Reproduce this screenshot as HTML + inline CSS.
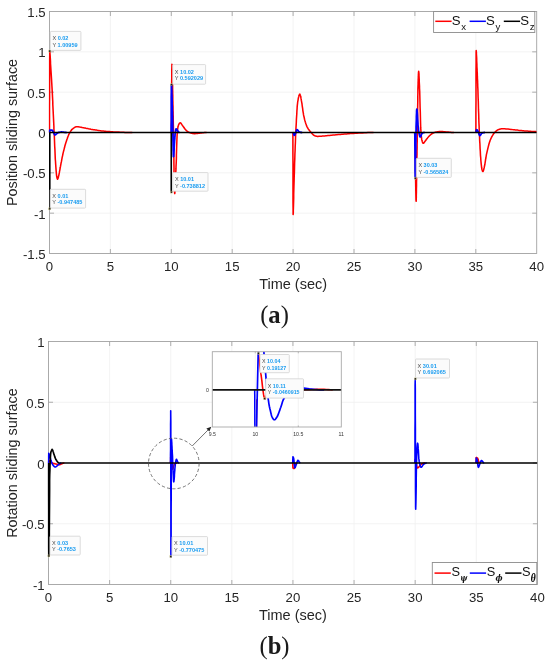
<!DOCTYPE html>
<html><head><meta charset="utf-8"><title>Sliding surfaces</title>
<style>html,body{margin:0;padding:0;background:#fff}svg{display:block}</style></head>
<body>
<svg width="550" height="666" viewBox="0 0 550 666">
<rect width="550" height="666" fill="#fff"/>
<defs><clipPath id="c1"><rect x="48.5" y="11.5" width="488.20000000000005" height="242.0"/></clipPath></defs>
<rect x="49.5" y="11.5" width="487.20000000000005" height="242.0" fill="#fff"/>
<line x1="110.40" x2="110.40" y1="11.5" y2="253.5" stroke="#f0f0f0" stroke-width="0.8"/>
<line x1="171.30" x2="171.30" y1="11.5" y2="253.5" stroke="#f0f0f0" stroke-width="0.8"/>
<line x1="232.20" x2="232.20" y1="11.5" y2="253.5" stroke="#f0f0f0" stroke-width="0.8"/>
<line x1="293.10" x2="293.10" y1="11.5" y2="253.5" stroke="#f0f0f0" stroke-width="0.8"/>
<line x1="354.00" x2="354.00" y1="11.5" y2="253.5" stroke="#f0f0f0" stroke-width="0.8"/>
<line x1="414.90" x2="414.90" y1="11.5" y2="253.5" stroke="#f0f0f0" stroke-width="0.8"/>
<line x1="475.80" x2="475.80" y1="11.5" y2="253.5" stroke="#f0f0f0" stroke-width="0.8"/>
<line x1="49.5" x2="536.7" y1="213.17" y2="213.17" stroke="#f0f0f0" stroke-width="0.8"/>
<line x1="49.5" x2="536.7" y1="172.83" y2="172.83" stroke="#f0f0f0" stroke-width="0.8"/>
<line x1="49.5" x2="536.7" y1="132.50" y2="132.50" stroke="#f0f0f0" stroke-width="0.8"/>
<line x1="49.5" x2="536.7" y1="92.17" y2="92.17" stroke="#f0f0f0" stroke-width="0.8"/>
<line x1="49.5" x2="536.7" y1="51.83" y2="51.83" stroke="#f0f0f0" stroke-width="0.8"/>
<line x1="110.40" x2="110.40" y1="253.5" y2="249.0" stroke="#9a9a9a" stroke-width="0.8"/>
<line x1="110.40" x2="110.40" y1="11.5" y2="16.0" stroke="#9a9a9a" stroke-width="0.8"/>
<line x1="171.30" x2="171.30" y1="253.5" y2="249.0" stroke="#9a9a9a" stroke-width="0.8"/>
<line x1="171.30" x2="171.30" y1="11.5" y2="16.0" stroke="#9a9a9a" stroke-width="0.8"/>
<line x1="232.20" x2="232.20" y1="253.5" y2="249.0" stroke="#9a9a9a" stroke-width="0.8"/>
<line x1="232.20" x2="232.20" y1="11.5" y2="16.0" stroke="#9a9a9a" stroke-width="0.8"/>
<line x1="293.10" x2="293.10" y1="253.5" y2="249.0" stroke="#9a9a9a" stroke-width="0.8"/>
<line x1="293.10" x2="293.10" y1="11.5" y2="16.0" stroke="#9a9a9a" stroke-width="0.8"/>
<line x1="354.00" x2="354.00" y1="253.5" y2="249.0" stroke="#9a9a9a" stroke-width="0.8"/>
<line x1="354.00" x2="354.00" y1="11.5" y2="16.0" stroke="#9a9a9a" stroke-width="0.8"/>
<line x1="414.90" x2="414.90" y1="253.5" y2="249.0" stroke="#9a9a9a" stroke-width="0.8"/>
<line x1="414.90" x2="414.90" y1="11.5" y2="16.0" stroke="#9a9a9a" stroke-width="0.8"/>
<line x1="475.80" x2="475.80" y1="253.5" y2="249.0" stroke="#9a9a9a" stroke-width="0.8"/>
<line x1="475.80" x2="475.80" y1="11.5" y2="16.0" stroke="#9a9a9a" stroke-width="0.8"/>
<line x1="49.5" x2="54.0" y1="213.17" y2="213.17" stroke="#9a9a9a" stroke-width="0.8"/>
<line x1="536.7" x2="532.2" y1="213.17" y2="213.17" stroke="#9a9a9a" stroke-width="0.8"/>
<line x1="49.5" x2="54.0" y1="172.83" y2="172.83" stroke="#9a9a9a" stroke-width="0.8"/>
<line x1="536.7" x2="532.2" y1="172.83" y2="172.83" stroke="#9a9a9a" stroke-width="0.8"/>
<line x1="49.5" x2="54.0" y1="132.50" y2="132.50" stroke="#9a9a9a" stroke-width="0.8"/>
<line x1="536.7" x2="532.2" y1="132.50" y2="132.50" stroke="#9a9a9a" stroke-width="0.8"/>
<line x1="49.5" x2="54.0" y1="92.17" y2="92.17" stroke="#9a9a9a" stroke-width="0.8"/>
<line x1="536.7" x2="532.2" y1="92.17" y2="92.17" stroke="#9a9a9a" stroke-width="0.8"/>
<line x1="49.5" x2="54.0" y1="51.83" y2="51.83" stroke="#9a9a9a" stroke-width="0.8"/>
<line x1="536.7" x2="532.2" y1="51.83" y2="51.83" stroke="#9a9a9a" stroke-width="0.8"/>
<text x="49.50" y="271.30" text-anchor="middle" font-family='"Liberation Sans", Arial, Helvetica, sans-serif' font-size="13.2" fill="#262626">0</text>
<text x="110.40" y="271.30" text-anchor="middle" font-family='"Liberation Sans", Arial, Helvetica, sans-serif' font-size="13.2" fill="#262626">5</text>
<text x="171.30" y="271.30" text-anchor="middle" font-family='"Liberation Sans", Arial, Helvetica, sans-serif' font-size="13.2" fill="#262626">10</text>
<text x="232.20" y="271.30" text-anchor="middle" font-family='"Liberation Sans", Arial, Helvetica, sans-serif' font-size="13.2" fill="#262626">15</text>
<text x="293.10" y="271.30" text-anchor="middle" font-family='"Liberation Sans", Arial, Helvetica, sans-serif' font-size="13.2" fill="#262626">20</text>
<text x="354.00" y="271.30" text-anchor="middle" font-family='"Liberation Sans", Arial, Helvetica, sans-serif' font-size="13.2" fill="#262626">25</text>
<text x="414.90" y="271.30" text-anchor="middle" font-family='"Liberation Sans", Arial, Helvetica, sans-serif' font-size="13.2" fill="#262626">30</text>
<text x="475.80" y="271.30" text-anchor="middle" font-family='"Liberation Sans", Arial, Helvetica, sans-serif' font-size="13.2" fill="#262626">35</text>
<text x="536.70" y="271.30" text-anchor="middle" font-family='"Liberation Sans", Arial, Helvetica, sans-serif' font-size="13.2" fill="#262626">40</text>
<text x="45.70" y="259.10" text-anchor="end" font-family='"Liberation Sans", Arial, Helvetica, sans-serif' font-size="13.2" fill="#262626">-1.5</text>
<text x="45.70" y="218.77" text-anchor="end" font-family='"Liberation Sans", Arial, Helvetica, sans-serif' font-size="13.2" fill="#262626">-1</text>
<text x="45.70" y="178.43" text-anchor="end" font-family='"Liberation Sans", Arial, Helvetica, sans-serif' font-size="13.2" fill="#262626">-0.5</text>
<text x="45.70" y="138.10" text-anchor="end" font-family='"Liberation Sans", Arial, Helvetica, sans-serif' font-size="13.2" fill="#262626">0</text>
<text x="45.70" y="97.77" text-anchor="end" font-family='"Liberation Sans", Arial, Helvetica, sans-serif' font-size="13.2" fill="#262626">0.5</text>
<text x="45.70" y="57.43" text-anchor="end" font-family='"Liberation Sans", Arial, Helvetica, sans-serif' font-size="13.2" fill="#262626">1</text>
<text x="45.70" y="17.10" text-anchor="end" font-family='"Liberation Sans", Arial, Helvetica, sans-serif' font-size="13.2" fill="#262626">1.5</text>
<text x="293.10" y="289.20" text-anchor="middle" font-family='"Liberation Sans", Arial, Helvetica, sans-serif' font-size="14.5" fill="#262626">Time (sec)</text>
<text transform="translate(17.4,132.50) rotate(-90)" text-anchor="middle" font-family='"Liberation Sans", Arial, Helvetica, sans-serif' font-size="14.4" fill="#262626">Position sliding surface</text>
<rect x="49.5" y="11.5" width="487.20000000000005" height="242.0" fill="none" stroke="#a2a2a2" stroke-width="0.9"/>
<path d="M49.5,132.5 L49.5,124.3 L49.5,115.5 L49.5,106.5 L49.6,97.4 L49.6,88.4 L49.6,79.9 L49.6,72.0 L49.6,65.0 L49.6,59.2 L49.7,54.7 L49.7,51.9 L49.7,50.9 L49.8,51.1 L49.9,51.6 L49.9,52.5 L50.0,53.7 L50.1,55.1 L50.2,56.6 L50.3,58.3 L50.4,60.0 L50.5,61.7 L50.5,63.4 L50.6,64.9 L50.7,66.4 L50.8,67.9 L50.9,69.5 L51.0,71.0 L51.1,72.5 L51.2,74.1 L51.3,75.6 L51.4,77.2 L51.5,78.8 L51.6,80.5 L51.7,82.2 L51.8,83.9 L51.9,85.7 L52.0,87.4 L52.1,89.1 L52.2,90.9 L52.3,92.8 L52.4,94.6 L52.5,96.6 L52.6,98.5 L52.7,100.4 L52.8,102.4 L52.8,104.4 L52.9,106.3 L53.0,108.3 L53.1,110.3 L53.2,112.3 L53.3,114.3 L53.4,116.3 L53.5,118.3 L53.6,120.4 L53.7,122.4 L53.8,124.5 L53.9,126.5 L53.9,128.5 L54.0,130.5 L54.1,132.5 L54.3,135.2 L54.4,137.9 L54.5,140.7 L54.6,143.5 L54.7,146.3 L54.9,149.1 L55.0,151.8 L55.1,154.4 L55.2,156.9 L55.3,159.2 L55.5,161.3 L55.6,163.2 L55.7,164.6 L55.8,166.1 L55.9,167.5 L56.0,168.9 L56.1,170.2 L56.2,171.5 L56.3,172.7 L56.4,173.8 L56.5,174.8 L56.6,175.6 L56.7,176.3 L56.8,176.9 L56.9,177.1 L56.9,177.4 L57.0,177.7 L57.1,178.0 L57.1,178.2 L57.2,178.4 L57.2,178.6 L57.3,178.8 L57.4,178.9 L57.4,179.0 L57.5,179.1 L57.5,179.1 L57.6,179.1 L57.7,179.0 L57.8,178.8 L57.9,178.6 L58.0,178.4 L58.1,178.1 L58.2,177.8 L58.3,177.4 L58.4,177.1 L58.5,176.7 L58.5,176.4 L58.6,176.1 L58.8,175.5 L58.9,174.8 L59.1,174.1 L59.2,173.3 L59.4,172.4 L59.5,171.6 L59.7,170.7 L59.9,169.8 L60.0,168.9 L60.2,168.0 L60.3,167.2 L60.5,166.4 L60.7,165.2 L60.9,164.1 L61.1,162.9 L61.4,161.7 L61.6,160.6 L61.8,159.4 L62.0,158.3 L62.2,157.2 L62.5,156.1 L62.7,155.1 L62.9,154.0 L63.1,153.1 L63.4,151.9 L63.7,150.7 L64.0,149.6 L64.3,148.4 L64.6,147.3 L64.8,146.3 L65.1,145.2 L65.4,144.2 L65.7,143.2 L66.0,142.3 L66.3,141.4 L66.6,140.6 L66.8,139.8 L67.1,139.0 L67.4,138.2 L67.6,137.5 L67.9,136.7 L68.2,136.0 L68.5,135.3 L68.7,134.7 L69.0,134.1 L69.3,133.5 L69.6,133.0 L69.8,132.5 L70.1,132.1 L70.3,131.7 L70.5,131.4 L70.8,131.0 L71.0,130.7 L71.2,130.4 L71.5,130.1 L71.7,129.8 L71.9,129.5 L72.2,129.3 L72.4,129.1 L72.6,128.9 L73.0,128.6 L73.3,128.3 L73.6,128.1 L74.0,127.8 L74.3,127.6 L74.7,127.4 L75.0,127.2 L75.3,127.0 L75.7,126.9 L76.0,126.8 L76.3,126.7 L76.7,126.7 L77.2,126.7 L77.8,126.7 L78.4,126.8 L79.0,126.9 L79.6,127.0 L80.1,127.1 L80.7,127.2 L81.3,127.3 L81.9,127.5 L82.4,127.6 L83.0,127.7 L83.6,127.8 L84.4,128.0 L85.2,128.1 L86.0,128.3 L86.9,128.4 L87.7,128.6 L88.5,128.8 L89.3,128.9 L90.1,129.1 L90.9,129.3 L91.7,129.4 L92.5,129.5 L93.3,129.7 L94.4,129.8 L95.4,130.0 L96.4,130.1 L97.4,130.3 L98.4,130.4 L99.4,130.6 L100.5,130.7 L101.5,130.9 L102.5,131.0 L103.5,131.1 L104.5,131.2 L105.5,131.3 L106.5,131.4 L107.6,131.5 L108.6,131.5 L109.6,131.6 L110.6,131.7 L111.6,131.8 L112.6,131.8 L113.6,131.9 L114.7,132.0 L115.7,132.0 L116.7,132.1 L117.7,132.1 L118.9,132.1 L120.1,132.2 L121.4,132.2 L122.6,132.3 L123.8,132.3 L125.0,132.4 L126.2,132.4 L127.5,132.4 L128.7,132.5 L129.9,132.5 L131.1,132.5 L132.3,132.5 M171.3,132.5 L171.4,131.2 L171.4,127.5 L171.5,121.8 L171.5,114.8 L171.6,106.9 L171.6,98.4 L171.7,90.0 L171.7,82.0 L171.8,75.0 L171.8,69.4 L171.9,65.7 L171.9,64.3 L172.0,64.6 L172.0,65.2 L172.1,66.3 L172.1,67.7 L172.2,69.3 L172.2,71.2 L172.3,73.2 L172.3,75.4 L172.4,77.6 L172.4,79.8 L172.5,82.0 L172.5,84.1 L172.6,85.8 L172.6,87.6 L172.6,89.5 L172.7,91.4 L172.7,93.5 L172.8,95.6 L172.8,97.7 L172.8,99.9 L172.9,102.0 L172.9,104.2 L173.0,106.3 L173.0,108.3 L173.0,110.3 L173.1,112.3 L173.1,114.2 L173.2,116.1 L173.2,118.1 L173.2,120.0 L173.3,122.0 L173.3,124.0 L173.4,126.0 L173.4,128.1 L173.5,130.3 L173.5,132.5 L173.6,136.2 L173.6,140.2 L173.7,144.6 L173.7,149.2 L173.8,153.8 L173.9,158.5 L173.9,163.1 L174.0,167.5 L174.0,171.5 L174.1,175.2 L174.2,178.4 L174.2,180.9 L174.3,182.4 L174.3,183.9 L174.3,185.4 L174.4,186.8 L174.4,188.2 L174.5,189.4 L174.5,190.6 L174.5,191.6 L174.6,192.4 L174.6,193.0 L174.7,193.4 L174.7,193.6 L174.8,193.4 L174.8,193.0 L174.9,192.4 L174.9,191.6 L175.0,190.6 L175.0,189.6 L175.1,188.4 L175.1,187.2 L175.2,186.0 L175.2,184.7 L175.3,183.6 L175.3,182.5 L175.4,181.1 L175.5,179.6 L175.5,178.1 L175.6,176.5 L175.7,175.0 L175.7,173.4 L175.8,171.7 L175.9,170.1 L176.0,168.4 L176.0,166.7 L176.1,164.9 L176.2,163.2 L176.3,160.7 L176.4,158.0 L176.4,155.0 L176.5,151.9 L176.6,148.8 L176.7,145.7 L176.8,142.8 L176.9,140.0 L177.0,137.5 L177.1,135.4 L177.2,133.7 L177.3,132.5 L177.4,131.5 L177.5,130.5 L177.6,129.6 L177.7,128.8 L177.8,128.1 L177.9,127.4 L178.0,126.8 L178.2,126.3 L178.3,125.8 L178.4,125.4 L178.5,125.1 L178.6,124.8 L178.7,124.6 L178.9,124.3 L179.0,124.0 L179.1,123.8 L179.3,123.6 L179.4,123.4 L179.5,123.2 L179.7,123.1 L179.8,123.0 L179.9,122.9 L180.1,122.8 L180.2,122.8 L180.4,122.9 L180.6,123.0 L180.9,123.2 L181.1,123.4 L181.3,123.7 L181.5,124.0 L181.8,124.4 L182.0,124.7 L182.2,125.1 L182.4,125.4 L182.6,125.7 L182.9,126.0 L183.1,126.4 L183.4,126.7 L183.6,127.1 L183.9,127.4 L184.1,127.8 L184.4,128.2 L184.6,128.5 L184.9,128.9 L185.2,129.2 L185.4,129.5 L185.7,129.8 L185.9,130.1 L186.2,130.3 L186.5,130.6 L186.7,130.8 L187.0,131.1 L187.3,131.3 L187.6,131.5 L187.8,131.7 L188.1,131.9 L188.4,132.1 L188.7,132.3 L188.9,132.4 L189.2,132.5 L189.6,132.6 L190.1,132.8 L190.5,132.9 L191.0,133.1 L191.4,133.2 L191.8,133.3 L192.3,133.4 L192.7,133.5 L193.1,133.5 L193.6,133.6 L194.0,133.6 L194.4,133.6 L195.5,133.6 L196.5,133.5 L197.5,133.5 L198.5,133.3 L199.5,133.2 L200.5,133.1 L201.5,132.9 L202.6,132.8 L203.6,132.7 L204.6,132.6 L205.6,132.5 L206.6,132.5 M292.9,132.5 L292.9,134.1 L292.9,138.6 L292.9,145.3 L292.9,153.8 L293.0,163.4 L293.0,173.5 L293.0,183.7 L293.0,193.3 L293.0,201.7 L293.1,208.5 L293.1,212.9 L293.1,214.5 L293.2,214.1 L293.3,212.8 L293.3,210.7 L293.4,208.1 L293.5,205.0 L293.6,201.5 L293.7,197.9 L293.7,194.2 L293.8,190.5 L293.9,186.9 L294.0,183.7 L294.1,180.9 L294.2,176.4 L294.4,171.9 L294.5,167.4 L294.6,163.0 L294.8,158.6 L294.9,154.3 L295.1,150.2 L295.2,146.2 L295.4,142.4 L295.5,138.9 L295.6,135.5 L295.8,132.5 L295.9,129.2 L296.1,125.9 L296.3,122.7 L296.4,119.5 L296.6,116.5 L296.8,113.7 L296.9,111.0 L297.1,108.6 L297.2,106.4 L297.4,104.6 L297.6,103.0 L297.7,101.8 L297.9,100.8 L298.1,99.8 L298.2,98.9 L298.4,98.0 L298.6,97.1 L298.8,96.4 L298.9,95.7 L299.1,95.2 L299.3,94.7 L299.5,94.4 L299.6,94.2 L299.8,94.1 L300.0,94.2 L300.1,94.5 L300.3,94.9 L300.4,95.4 L300.6,96.1 L300.7,96.8 L300.9,97.6 L301.0,98.4 L301.2,99.3 L301.3,100.2 L301.5,101.0 L301.6,101.8 L301.8,102.8 L302.0,103.9 L302.1,105.0 L302.3,106.3 L302.5,107.6 L302.7,108.9 L302.8,110.1 L303.0,111.4 L303.2,112.6 L303.4,113.7 L303.5,114.7 L303.7,115.6 L304.0,116.8 L304.3,118.0 L304.5,119.2 L304.8,120.3 L305.1,121.3 L305.4,122.3 L305.7,123.2 L306.0,124.1 L306.3,124.9 L306.5,125.6 L306.8,126.3 L307.1,126.9 L307.4,127.5 L307.8,128.1 L308.1,128.7 L308.4,129.2 L308.8,129.7 L309.1,130.1 L309.5,130.6 L309.8,131.0 L310.1,131.4 L310.5,131.7 L310.8,132.1 L311.1,132.5 L311.4,132.8 L311.7,133.1 L311.9,133.4 L312.2,133.7 L312.5,134.0 L312.8,134.3 L313.0,134.6 L313.3,134.8 L313.6,135.1 L313.9,135.3 L314.1,135.4 L314.4,135.6 L314.7,135.7 L314.9,135.8 L315.2,135.9 L315.4,136.0 L315.7,136.0 L315.9,136.1 L316.2,136.2 L316.4,136.3 L316.7,136.3 L317.0,136.3 L317.2,136.4 L317.5,136.4 L318.1,136.4 L318.7,136.3 L319.3,136.3 L319.9,136.3 L320.5,136.2 L321.1,136.2 L321.7,136.2 L322.3,136.1 L322.9,136.0 L323.6,136.0 L324.2,135.9 L324.8,135.9 L325.8,135.8 L326.8,135.7 L327.8,135.6 L328.8,135.5 L329.8,135.4 L330.9,135.3 L331.9,135.2 L332.9,135.1 L333.9,135.0 L334.9,134.9 L335.9,134.8 L336.9,134.7 L338.2,134.6 L339.4,134.5 L340.6,134.4 L341.8,134.3 L343.0,134.2 L344.3,134.1 L345.5,134.0 L346.7,133.9 L347.9,133.8 L349.1,133.7 L350.3,133.6 L351.6,133.5 L353.4,133.4 L355.2,133.3 L357.0,133.2 L358.9,133.1 L360.7,133.0 L362.5,132.9 L364.4,132.8 L366.2,132.7 L368.0,132.6 L369.8,132.5 L371.7,132.5 L373.5,132.5 M414.9,132.5 L415.0,133.9 L415.1,137.6 L415.2,143.2 L415.3,150.3 L415.4,158.4 L415.5,166.9 L415.6,175.4 L415.7,183.4 L415.8,190.5 L415.9,196.1 L416.0,199.9 L416.1,201.2 L416.2,200.8 L416.2,199.6 L416.3,197.8 L416.3,195.4 L416.4,192.5 L416.4,189.3 L416.5,185.9 L416.5,182.3 L416.6,178.7 L416.6,175.2 L416.7,171.8 L416.7,168.8 L416.8,165.9 L416.8,163.0 L416.9,160.1 L416.9,157.1 L417.0,154.2 L417.0,151.1 L417.1,148.1 L417.1,145.0 L417.2,141.9 L417.2,138.8 L417.3,135.7 L417.3,132.5 L417.4,128.5 L417.5,124.1 L417.5,119.6 L417.6,114.9 L417.6,110.1 L417.7,105.4 L417.8,100.9 L417.8,96.6 L417.9,92.7 L417.9,89.3 L418.0,86.4 L418.1,84.1 L418.1,82.5 L418.2,80.9 L418.2,79.4 L418.3,78.0 L418.3,76.6 L418.4,75.3 L418.4,74.2 L418.5,73.2 L418.5,72.5 L418.6,71.9 L418.6,71.5 L418.7,71.4 L418.7,71.6 L418.8,72.1 L418.9,73.0 L419.0,74.2 L419.0,75.6 L419.1,77.2 L419.2,79.0 L419.2,80.8 L419.3,82.7 L419.4,84.6 L419.5,86.4 L419.5,88.1 L419.7,91.3 L419.8,95.0 L419.9,99.0 L420.0,103.4 L420.1,107.8 L420.3,112.3 L420.4,116.7 L420.5,120.8 L420.6,124.6 L420.7,127.9 L420.9,130.6 L421.0,132.5 L421.1,133.5 L421.2,134.4 L421.2,135.3 L421.3,136.1 L421.4,136.9 L421.5,137.6 L421.6,138.3 L421.6,138.9 L421.7,139.4 L421.8,139.8 L421.9,140.2 L422.0,140.6 L422.1,140.9 L422.2,141.3 L422.3,141.6 L422.4,141.9 L422.5,142.2 L422.6,142.5 L422.7,142.7 L422.8,142.9 L422.9,143.1 L423.0,143.2 L423.1,143.3 L423.2,143.3 L423.4,143.3 L423.5,143.2 L423.7,143.1 L423.9,142.9 L424.0,142.7 L424.2,142.4 L424.4,142.2 L424.6,141.9 L424.7,141.7 L424.9,141.4 L425.1,141.2 L425.3,141.0 L425.6,140.5 L426.0,140.1 L426.3,139.6 L426.7,139.1 L427.0,138.7 L427.4,138.2 L427.7,137.7 L428.1,137.3 L428.5,136.8 L428.8,136.4 L429.2,136.1 L429.5,135.7 L429.9,135.4 L430.3,135.0 L430.7,134.7 L431.1,134.4 L431.5,134.0 L432.0,133.7 L432.4,133.5 L432.8,133.2 L433.2,133.0 L433.6,132.8 L434.0,132.6 L434.4,132.5 L434.9,132.4 L435.4,132.2 L435.9,132.1 L436.4,132.0 L436.9,131.9 L437.4,131.8 L437.9,131.7 L438.4,131.7 L439.0,131.6 L439.5,131.6 L440.0,131.5 L440.5,131.5 L441.6,131.6 L442.7,131.6 L443.8,131.7 L444.9,131.8 L446.1,131.9 L447.2,132.0 L448.3,132.1 L449.4,132.2 L450.5,132.3 L451.6,132.4 L452.8,132.5 L453.9,132.5 M475.8,132.5 L475.8,130.9 L475.9,126.4 L475.9,119.7 L475.9,111.3 L476.0,101.7 L476.0,91.6 L476.0,81.4 L476.0,71.9 L476.1,63.4 L476.1,56.7 L476.1,52.2 L476.2,50.6 L476.2,50.8 L476.3,51.5 L476.4,52.4 L476.4,53.7 L476.5,55.2 L476.6,56.9 L476.7,58.8 L476.7,60.7 L476.8,62.6 L476.9,64.5 L476.9,66.3 L477.0,68.0 L477.1,69.3 L477.1,70.7 L477.2,72.1 L477.3,73.5 L477.3,75.0 L477.4,76.5 L477.4,78.0 L477.5,79.5 L477.6,81.0 L477.6,82.5 L477.7,84.1 L477.7,85.7 L477.9,89.3 L478.0,93.2 L478.1,97.2 L478.3,101.4 L478.4,105.7 L478.5,109.9 L478.7,114.1 L478.8,118.2 L478.9,122.2 L479.1,125.9 L479.2,129.4 L479.3,132.5 L479.5,135.4 L479.6,138.3 L479.7,141.1 L479.9,143.8 L480.0,146.4 L480.1,148.9 L480.3,151.3 L480.4,153.6 L480.5,155.6 L480.7,157.5 L480.8,159.2 L480.9,160.7 L481.0,161.8 L481.1,162.8 L481.2,163.8 L481.3,164.7 L481.4,165.6 L481.5,166.5 L481.6,167.3 L481.7,168.0 L481.8,168.6 L481.9,169.2 L482.0,169.6 L482.1,170.0 L482.2,170.2 L482.3,170.4 L482.3,170.6 L482.4,170.7 L482.4,170.9 L482.5,171.1 L482.6,171.2 L482.6,171.3 L482.7,171.4 L482.7,171.5 L482.8,171.5 L482.9,171.5 L483.0,171.5 L483.1,171.4 L483.2,171.2 L483.3,171.0 L483.4,170.7 L483.5,170.3 L483.6,170.0 L483.7,169.6 L483.8,169.2 L483.9,168.8 L484.0,168.4 L484.1,168.0 L484.3,167.1 L484.5,166.0 L484.8,164.8 L485.0,163.5 L485.2,162.2 L485.4,160.8 L485.6,159.4 L485.9,158.0 L486.1,156.6 L486.3,155.3 L486.5,154.1 L486.8,153.1 L487.1,151.7 L487.4,150.4 L487.7,149.1 L488.0,147.8 L488.3,146.6 L488.6,145.5 L488.9,144.3 L489.2,143.3 L489.5,142.3 L489.8,141.4 L490.1,140.5 L490.4,139.8 L490.8,138.9 L491.1,138.2 L491.5,137.4 L491.8,136.7 L492.2,136.1 L492.5,135.4 L492.9,134.9 L493.3,134.3 L493.6,133.8 L494.0,133.3 L494.3,132.9 L494.7,132.5 L495.0,132.2 L495.3,131.9 L495.6,131.6 L495.9,131.3 L496.2,131.0 L496.5,130.8 L496.8,130.5 L497.1,130.3 L497.4,130.1 L497.7,129.9 L498.0,129.8 L498.3,129.7 L498.7,129.6 L499.0,129.4 L499.4,129.3 L499.8,129.2 L500.1,129.1 L500.5,129.0 L500.8,128.9 L501.2,128.8 L501.5,128.8 L501.9,128.7 L502.2,128.7 L502.6,128.7 L503.4,128.7 L504.2,128.8 L505.0,128.8 L505.8,128.9 L506.7,128.9 L507.5,129.0 L508.3,129.1 L509.1,129.2 L509.9,129.3 L510.7,129.4 L511.5,129.5 L512.3,129.6 L513.4,129.7 L514.4,129.8 L515.4,129.9 L516.4,130.0 L517.4,130.1 L518.4,130.3 L519.4,130.4 L520.5,130.5 L521.5,130.6 L522.5,130.7 L523.5,130.8 L524.5,130.9 L525.5,131.0 L526.5,131.0 L527.6,131.1 L528.6,131.2 L529.6,131.3 L530.6,131.3 L531.6,131.4 L532.6,131.5 L533.7,131.5 L534.7,131.6 L535.7,131.6 L536.7,131.7" fill="none" stroke="#ff0000" stroke-width="1.55" stroke-linejoin="round" stroke-linecap="butt" clip-path="url(#c1)"/>
<path d="M49.5,132.5 L49.5,132.3 L49.6,132.0 L49.6,131.7 L49.6,131.5 L49.7,131.2 L49.7,130.9 L49.7,130.7 L49.7,130.5 L49.8,130.3 L49.8,130.2 L49.8,130.1 L49.9,130.1 L50.0,130.1 L50.2,130.1 L50.4,130.1 L50.6,130.1 L50.7,130.1 L50.9,130.1 L51.1,130.1 L51.2,130.1 L51.4,130.1 L51.6,130.1 L51.8,130.1 L51.9,130.1 L52.1,130.1 L52.2,130.2 L52.3,130.3 L52.5,130.5 L52.6,130.7 L52.7,131.0 L52.9,131.2 L53.0,131.5 L53.1,131.8 L53.3,132.0 L53.4,132.3 L53.5,132.5 L53.6,132.7 L53.8,132.9 L53.9,133.2 L54.0,133.5 L54.1,133.7 L54.3,134.0 L54.4,134.2 L54.5,134.5 L54.6,134.7 L54.7,134.8 L54.9,134.9 L55.0,134.9 L55.1,134.9 L55.3,134.8 L55.4,134.7 L55.6,134.6 L55.7,134.5 L55.9,134.3 L56.0,134.2 L56.2,134.0 L56.4,133.9 L56.5,133.7 L56.7,133.6 L56.8,133.5 L57.0,133.4 L57.1,133.3 L57.3,133.2 L57.4,133.1 L57.6,133.0 L57.7,132.9 L57.9,132.8 L58.0,132.7 L58.2,132.7 L58.3,132.6 L58.5,132.5 L58.6,132.5 L58.9,132.4 L59.1,132.4 L59.4,132.3 L59.7,132.3 L59.9,132.2 L60.2,132.2 L60.4,132.1 L60.7,132.1 L60.9,132.1 L61.2,132.0 L61.4,132.0 L61.7,132.0 L62.1,132.0 L62.5,132.1 L62.9,132.1 L63.3,132.1 L63.7,132.2 L64.1,132.3 L64.5,132.3 L64.9,132.4 L65.3,132.4 L65.7,132.5 L66.1,132.5 L66.6,132.5 M171.2,132.5 L171.2,131.6 L171.2,129.0 L171.2,125.0 L171.3,120.1 L171.3,114.5 L171.3,108.6 L171.3,102.7 L171.3,97.1 L171.4,92.2 L171.4,88.3 L171.4,85.7 L171.4,84.7 L171.5,85.0 L171.6,85.8 L171.6,87.1 L171.7,88.8 L171.8,90.8 L171.8,93.0 L171.9,95.5 L172.0,98.0 L172.1,100.7 L172.1,103.3 L172.2,105.9 L172.3,108.3 L172.3,110.0 L172.4,111.9 L172.4,113.8 L172.5,115.8 L172.5,117.8 L172.6,119.9 L172.6,122.0 L172.7,124.1 L172.7,126.3 L172.8,128.4 L172.8,130.5 L172.9,132.5 L172.9,134.7 L173.0,137.1 L173.0,139.7 L173.1,142.4 L173.1,145.0 L173.2,147.6 L173.2,150.0 L173.3,152.2 L173.3,154.1 L173.4,155.5 L173.4,156.4 L173.5,156.7 L173.6,156.5 L173.7,155.9 L173.7,155.0 L173.8,153.9 L173.9,152.5 L174.0,151.0 L174.1,149.4 L174.1,147.8 L174.2,146.2 L174.3,144.7 L174.4,143.3 L174.5,142.2 L174.5,141.3 L174.6,140.3 L174.7,139.4 L174.8,138.4 L174.8,137.5 L174.9,136.6 L175.0,135.8 L175.0,135.0 L175.1,134.2 L175.2,133.6 L175.2,133.0 L175.3,132.5 L175.4,132.1 L175.5,131.6 L175.5,131.2 L175.6,130.8 L175.7,130.4 L175.7,130.0 L175.8,129.7 L175.9,129.4 L176.0,129.2 L176.0,129.0 L176.1,128.9 L176.2,128.9 L176.3,128.9 L176.4,129.0 L176.5,129.1 L176.7,129.3 L176.8,129.5 L176.9,129.7 L177.0,129.9 L177.1,130.1 L177.3,130.3 L177.4,130.5 L177.5,130.7 L177.6,130.9 L177.8,131.1 L177.9,131.2 L178.1,131.4 L178.2,131.6 L178.3,131.8 L178.5,131.9 L178.6,132.1 L178.8,132.2 L178.9,132.3 L179.1,132.4 L179.2,132.5 L179.3,132.5 M293.1,132.5 L293.2,132.6 L293.3,132.7 L293.4,132.9 L293.5,133.2 L293.6,133.6 L293.7,133.9 L293.8,134.3 L293.9,134.6 L294.0,134.9 L294.1,135.1 L294.2,135.3 L294.3,135.3 L294.4,135.3 L294.6,135.2 L294.7,135.0 L294.8,134.8 L294.9,134.6 L295.0,134.3 L295.2,134.0 L295.3,133.7 L295.4,133.4 L295.5,133.1 L295.7,132.8 L295.8,132.5 L295.9,132.3 L296.0,132.0 L296.1,131.7 L296.2,131.4 L296.3,131.1 L296.4,130.8 L296.5,130.5 L296.6,130.2 L296.7,130.0 L296.8,129.8 L296.9,129.7 L297.0,129.7 L297.2,129.7 L297.4,129.8 L297.5,130.0 L297.7,130.2 L297.9,130.4 L298.1,130.7 L298.3,130.9 L298.5,131.2 L298.6,131.4 L298.8,131.6 L299.0,131.8 L299.2,131.9 L299.4,131.9 L299.7,132.0 L300.0,132.1 L300.2,132.2 L300.5,132.3 L300.7,132.3 L301.0,132.4 L301.2,132.4 L301.5,132.5 L301.7,132.5 L302.0,132.5 L302.2,132.5 M414.8,132.5 L414.8,133.4 L414.9,135.9 L414.9,139.6 L414.9,144.3 L415.0,149.7 L415.0,155.3 L415.1,161.0 L415.1,166.3 L415.1,171.0 L415.2,174.8 L415.2,177.3 L415.3,178.2 L415.3,177.4 L415.4,175.4 L415.4,172.3 L415.5,168.4 L415.6,163.8 L415.6,158.8 L415.7,153.7 L415.8,148.5 L415.8,143.6 L415.9,139.1 L415.9,135.4 L416.0,132.5 L416.1,129.7 L416.1,127.0 L416.2,124.2 L416.3,121.6 L416.4,119.0 L416.4,116.7 L416.5,114.6 L416.6,112.7 L416.6,111.2 L416.7,110.1 L416.8,109.4 L416.8,109.1 L416.9,109.3 L417.0,110.0 L417.1,111.0 L417.2,112.2 L417.3,113.7 L417.4,115.4 L417.5,117.1 L417.6,118.8 L417.7,120.4 L417.8,122.0 L417.9,123.3 L417.9,124.4 L418.0,125.3 L418.1,126.1 L418.2,126.9 L418.3,127.7 L418.4,128.4 L418.4,129.1 L418.5,129.8 L418.6,130.5 L418.7,131.0 L418.8,131.6 L418.8,132.1 L418.9,132.5 L419.0,133.0 L419.1,133.6 L419.3,134.1 L419.4,134.6 L419.5,135.1 L419.6,135.5 L419.7,135.9 L419.8,136.3 L419.9,136.5 L420.0,136.8 L420.1,136.9 L420.3,136.9 L420.4,136.9 L420.6,136.7 L420.7,136.4 L420.9,136.0 L421.1,135.6 L421.2,135.2 L421.4,134.7 L421.6,134.3 L421.7,133.9 L421.9,133.5 L422.0,133.3 L422.2,133.1 L422.4,133.1 L422.6,133.0 L422.8,132.9 L423.0,132.8 L423.2,132.7 L423.4,132.7 L423.6,132.6 L423.8,132.6 L424.0,132.5 L424.2,132.5 L424.4,132.5 L424.6,132.5 M475.8,132.5 L475.9,132.4 L476.0,132.3 L476.0,132.1 L476.1,131.8 L476.2,131.4 L476.3,131.1 L476.4,130.7 L476.4,130.4 L476.5,130.1 L476.6,129.9 L476.7,129.7 L476.8,129.7 L476.9,129.7 L477.1,129.8 L477.2,130.0 L477.3,130.2 L477.5,130.4 L477.6,130.7 L477.8,131.0 L477.9,131.3 L478.1,131.6 L478.2,131.9 L478.3,132.2 L478.5,132.5 L478.6,132.7 L478.7,133.0 L478.8,133.3 L478.9,133.7 L479.0,134.0 L479.1,134.4 L479.3,134.7 L479.4,135.0 L479.5,135.2 L479.6,135.4 L479.7,135.5 L479.8,135.6 L480.0,135.5 L480.2,135.4 L480.3,135.2 L480.5,135.0 L480.7,134.7 L480.9,134.5 L481.0,134.2 L481.2,133.9 L481.4,133.6 L481.5,133.4 L481.7,133.2 L481.9,133.1 L482.1,133.1 L482.4,133.0 L482.7,132.9 L482.9,132.8 L483.2,132.7 L483.4,132.7 L483.7,132.6 L483.9,132.6 L484.2,132.5 L484.4,132.5 L484.7,132.5 L484.9,132.5" fill="none" stroke="#0000ff" stroke-width="1.8" stroke-linejoin="round" stroke-linecap="butt" clip-path="url(#c1)"/>
<path d="M49.5,132.50 H536.7 M49.80,132.50 V208.89 M171.25,132.50 V192.11" fill="none" stroke="#000000" stroke-width="1.6" clip-path="url(#c1)"/>
<rect x="50.3" y="31.4" width="30.6" height="19" rx="0.8" fill="#fbfbfb" stroke="#d2d2d2" stroke-width="0.8"/>
<text x="52.4" y="40.00" font-family='"Liberation Sans", Arial, Helvetica, sans-serif' font-size="5.55" fill="#484848">X <tspan fill="#1a9cf0" font-weight="bold">0.02</tspan></text>
<text x="52.4" y="46.65" font-family='"Liberation Sans", Arial, Helvetica, sans-serif' font-size="5.55" fill="#484848">Y <tspan fill="#1a9cf0" font-weight="bold">1.00959</tspan></text>
<rect x="48.74" y="50.06" width="2" height="2" fill="#1a1a1a" stroke="#e8e0a0" stroke-width="0.4"/>
<rect x="50.2" y="189.3" width="35.4" height="18.8" rx="0.8" fill="#fbfbfb" stroke="#d2d2d2" stroke-width="0.8"/>
<text x="52.300000000000004" y="197.80" font-family='"Liberation Sans", Arial, Helvetica, sans-serif' font-size="5.55" fill="#484848">X <tspan fill="#1a9cf0" font-weight="bold">0.01</tspan></text>
<text x="52.300000000000004" y="204.45" font-family='"Liberation Sans", Arial, Helvetica, sans-serif' font-size="5.55" fill="#484848">Y <tspan fill="#1a9cf0" font-weight="bold">-0.947485</tspan></text>
<rect x="48.62" y="207.89" width="2" height="2" fill="#1a1a1a" stroke="#e8e0a0" stroke-width="0.4"/>
<rect x="172.7" y="64.6" width="32.9" height="19.6" rx="0.8" fill="#fbfbfb" stroke="#d2d2d2" stroke-width="0.8"/>
<text x="174.79999999999998" y="73.50" font-family='"Liberation Sans", Arial, Helvetica, sans-serif' font-size="5.55" fill="#484848">X <tspan fill="#1a9cf0" font-weight="bold">10.02</tspan></text>
<text x="174.79999999999998" y="80.15" font-family='"Liberation Sans", Arial, Helvetica, sans-serif' font-size="5.55" fill="#484848">Y <tspan fill="#1a9cf0" font-weight="bold">0.592029</tspan></text>
<rect x="170.54" y="83.75" width="2" height="2" fill="#1a1a1a" stroke="#e8e0a0" stroke-width="0.4"/>
<rect x="172.8" y="172.6" width="35.2" height="18.6" rx="0.8" fill="#fbfbfb" stroke="#d2d2d2" stroke-width="0.8"/>
<text x="174.9" y="181.00" font-family='"Liberation Sans", Arial, Helvetica, sans-serif' font-size="5.55" fill="#484848">X <tspan fill="#1a9cf0" font-weight="bold">10.01</tspan></text>
<text x="174.9" y="187.65" font-family='"Liberation Sans", Arial, Helvetica, sans-serif' font-size="5.55" fill="#484848">Y <tspan fill="#1a9cf0" font-weight="bold">-0.738812</tspan></text>
<rect x="170.42" y="191.11" width="2" height="2" fill="#1a1a1a" stroke="#e8e0a0" stroke-width="0.4"/>
<rect x="416.3" y="158.3" width="35" height="19.1" rx="0.8" fill="#fbfbfb" stroke="#d2d2d2" stroke-width="0.8"/>
<text x="418.40000000000003" y="166.78" font-family='"Liberation Sans", Arial, Helvetica, sans-serif' font-size="5.5" fill="#484848">X <tspan fill="#1a9cf0" font-weight="bold">30.03</tspan></text>
<text x="418.40000000000003" y="173.78" font-family='"Liberation Sans", Arial, Helvetica, sans-serif' font-size="5.5" fill="#484848">Y <tspan fill="#1a9cf0" font-weight="bold">-0.565824</tspan></text>
<rect x="414.27" y="177.16" width="2" height="2" fill="#1a1a1a" stroke="#e8e0a0" stroke-width="0.4"/>
<rect x="433.6" y="11.5" width="101.2" height="21" fill="#fff" stroke="#8c8c8c" stroke-width="0.9"/>
<line x1="435.3" x2="451.6" y1="21.3" y2="21.3" stroke="#ff0000" stroke-width="1.5"/>
<text x="451.7" y="24.6" font-family='"Liberation Sans", Arial, Helvetica, sans-serif' font-size="13.2" fill="#111">S<tspan dx="0.8" dy="4.9" font-size="9.6">x</tspan></text>
<line x1="469.6" x2="485.90000000000003" y1="21.3" y2="21.3" stroke="#0000ff" stroke-width="1.5"/>
<text x="486.0" y="24.6" font-family='"Liberation Sans", Arial, Helvetica, sans-serif' font-size="13.2" fill="#111">S<tspan dx="0.8" dy="4.9" font-size="9.6">y</tspan></text>
<line x1="503.8" x2="520.1" y1="21.3" y2="21.3" stroke="#000000" stroke-width="1.5"/>
<text x="520.2" y="24.6" font-family='"Liberation Sans", Arial, Helvetica, sans-serif' font-size="13.2" fill="#111">S<tspan dx="0.8" dy="4.9" font-size="9.6">z</tspan></text>
<text x="274.5" y="322.9" text-anchor="middle" font-family='"Liberation Serif", "Times New Roman", serif' font-size="24.6" fill="#1a1a1a">(<tspan font-weight="bold">a</tspan>)</text>
<defs><clipPath id="c2"><rect x="47.5" y="341.5" width="489.9" height="243.0"/></clipPath></defs>
<rect x="48.5" y="341.5" width="488.9" height="243.0" fill="#fff"/>
<line x1="109.61" x2="109.61" y1="341.5" y2="584.5" stroke="#f0f0f0" stroke-width="0.8"/>
<line x1="170.72" x2="170.72" y1="341.5" y2="584.5" stroke="#f0f0f0" stroke-width="0.8"/>
<line x1="231.84" x2="231.84" y1="341.5" y2="584.5" stroke="#f0f0f0" stroke-width="0.8"/>
<line x1="292.95" x2="292.95" y1="341.5" y2="584.5" stroke="#f0f0f0" stroke-width="0.8"/>
<line x1="354.06" x2="354.06" y1="341.5" y2="584.5" stroke="#f0f0f0" stroke-width="0.8"/>
<line x1="415.17" x2="415.17" y1="341.5" y2="584.5" stroke="#f0f0f0" stroke-width="0.8"/>
<line x1="476.29" x2="476.29" y1="341.5" y2="584.5" stroke="#f0f0f0" stroke-width="0.8"/>
<line x1="48.5" x2="537.4" y1="523.75" y2="523.75" stroke="#f0f0f0" stroke-width="0.8"/>
<line x1="48.5" x2="537.4" y1="463.00" y2="463.00" stroke="#f0f0f0" stroke-width="0.8"/>
<line x1="48.5" x2="537.4" y1="402.25" y2="402.25" stroke="#f0f0f0" stroke-width="0.8"/>
<line x1="109.61" x2="109.61" y1="584.5" y2="580.0" stroke="#9a9a9a" stroke-width="0.8"/>
<line x1="109.61" x2="109.61" y1="341.5" y2="346.0" stroke="#9a9a9a" stroke-width="0.8"/>
<line x1="170.72" x2="170.72" y1="584.5" y2="580.0" stroke="#9a9a9a" stroke-width="0.8"/>
<line x1="170.72" x2="170.72" y1="341.5" y2="346.0" stroke="#9a9a9a" stroke-width="0.8"/>
<line x1="231.84" x2="231.84" y1="584.5" y2="580.0" stroke="#9a9a9a" stroke-width="0.8"/>
<line x1="231.84" x2="231.84" y1="341.5" y2="346.0" stroke="#9a9a9a" stroke-width="0.8"/>
<line x1="292.95" x2="292.95" y1="584.5" y2="580.0" stroke="#9a9a9a" stroke-width="0.8"/>
<line x1="292.95" x2="292.95" y1="341.5" y2="346.0" stroke="#9a9a9a" stroke-width="0.8"/>
<line x1="354.06" x2="354.06" y1="584.5" y2="580.0" stroke="#9a9a9a" stroke-width="0.8"/>
<line x1="354.06" x2="354.06" y1="341.5" y2="346.0" stroke="#9a9a9a" stroke-width="0.8"/>
<line x1="415.17" x2="415.17" y1="584.5" y2="580.0" stroke="#9a9a9a" stroke-width="0.8"/>
<line x1="415.17" x2="415.17" y1="341.5" y2="346.0" stroke="#9a9a9a" stroke-width="0.8"/>
<line x1="476.29" x2="476.29" y1="584.5" y2="580.0" stroke="#9a9a9a" stroke-width="0.8"/>
<line x1="476.29" x2="476.29" y1="341.5" y2="346.0" stroke="#9a9a9a" stroke-width="0.8"/>
<line x1="48.5" x2="53.0" y1="523.75" y2="523.75" stroke="#9a9a9a" stroke-width="0.8"/>
<line x1="537.4" x2="532.9" y1="523.75" y2="523.75" stroke="#9a9a9a" stroke-width="0.8"/>
<line x1="48.5" x2="53.0" y1="463.00" y2="463.00" stroke="#9a9a9a" stroke-width="0.8"/>
<line x1="537.4" x2="532.9" y1="463.00" y2="463.00" stroke="#9a9a9a" stroke-width="0.8"/>
<line x1="48.5" x2="53.0" y1="402.25" y2="402.25" stroke="#9a9a9a" stroke-width="0.8"/>
<line x1="537.4" x2="532.9" y1="402.25" y2="402.25" stroke="#9a9a9a" stroke-width="0.8"/>
<text x="48.50" y="602.30" text-anchor="middle" font-family='"Liberation Sans", Arial, Helvetica, sans-serif' font-size="13.2" fill="#262626">0</text>
<text x="109.61" y="602.30" text-anchor="middle" font-family='"Liberation Sans", Arial, Helvetica, sans-serif' font-size="13.2" fill="#262626">5</text>
<text x="170.72" y="602.30" text-anchor="middle" font-family='"Liberation Sans", Arial, Helvetica, sans-serif' font-size="13.2" fill="#262626">10</text>
<text x="231.84" y="602.30" text-anchor="middle" font-family='"Liberation Sans", Arial, Helvetica, sans-serif' font-size="13.2" fill="#262626">15</text>
<text x="292.95" y="602.30" text-anchor="middle" font-family='"Liberation Sans", Arial, Helvetica, sans-serif' font-size="13.2" fill="#262626">20</text>
<text x="354.06" y="602.30" text-anchor="middle" font-family='"Liberation Sans", Arial, Helvetica, sans-serif' font-size="13.2" fill="#262626">25</text>
<text x="415.17" y="602.30" text-anchor="middle" font-family='"Liberation Sans", Arial, Helvetica, sans-serif' font-size="13.2" fill="#262626">30</text>
<text x="476.29" y="602.30" text-anchor="middle" font-family='"Liberation Sans", Arial, Helvetica, sans-serif' font-size="13.2" fill="#262626">35</text>
<text x="537.40" y="602.30" text-anchor="middle" font-family='"Liberation Sans", Arial, Helvetica, sans-serif' font-size="13.2" fill="#262626">40</text>
<text x="44.70" y="590.10" text-anchor="end" font-family='"Liberation Sans", Arial, Helvetica, sans-serif' font-size="13.2" fill="#262626">-1</text>
<text x="44.70" y="529.35" text-anchor="end" font-family='"Liberation Sans", Arial, Helvetica, sans-serif' font-size="13.2" fill="#262626">-0.5</text>
<text x="44.70" y="468.60" text-anchor="end" font-family='"Liberation Sans", Arial, Helvetica, sans-serif' font-size="13.2" fill="#262626">0</text>
<text x="44.70" y="407.85" text-anchor="end" font-family='"Liberation Sans", Arial, Helvetica, sans-serif' font-size="13.2" fill="#262626">0.5</text>
<text x="44.70" y="347.10" text-anchor="end" font-family='"Liberation Sans", Arial, Helvetica, sans-serif' font-size="13.2" fill="#262626">1</text>
<text x="292.95" y="620.20" text-anchor="middle" font-family='"Liberation Sans", Arial, Helvetica, sans-serif' font-size="14.5" fill="#262626">Time (sec)</text>
<text transform="translate(17.4,463.00) rotate(-90)" text-anchor="middle" font-family='"Liberation Sans", Arial, Helvetica, sans-serif' font-size="14.4" fill="#262626">Rotation sliding surface</text>
<rect x="48.5" y="341.5" width="488.9" height="243.0" fill="none" stroke="#a2a2a2" stroke-width="0.9"/>
<path d="M48.5,463.0 L48.6,462.7 L48.6,462.5 L48.7,462.2 L48.7,461.9 L48.8,461.7 L48.8,461.4 L48.9,461.2 L48.9,461.0 L49.0,460.8 L49.0,460.7 L49.1,460.6 L49.1,460.6 L49.4,460.6 L49.6,460.7 L49.9,460.9 L50.1,461.1 L50.4,461.4 L50.6,461.6 L50.9,461.9 L51.1,462.2 L51.4,462.4 L51.7,462.7 L51.9,462.9 L52.2,463.0 L52.5,463.1 L52.8,463.2 L53.1,463.3 L53.4,463.4 L53.7,463.5 L54.0,463.6 L54.3,463.6 L54.6,463.7 L54.9,463.8 L55.2,463.8 L55.5,463.9 L55.8,464.0 L56.1,464.0 L56.4,464.1 L56.8,464.2 L57.1,464.3 L57.4,464.4 L57.7,464.4 L58.0,464.5 L58.3,464.6 L58.6,464.6 L58.9,464.7 L59.2,464.7 L59.5,464.7 L59.7,464.7 L59.9,464.6 L60.1,464.6 L60.3,464.5 L60.5,464.4 L60.7,464.3 L60.9,464.2 L61.1,464.1 L61.3,464.0 L61.5,463.9 L61.7,463.8 L61.9,463.7 L62.1,463.7 L62.4,463.6 L62.6,463.5 L62.8,463.4 L63.0,463.3 L63.2,463.3 L63.4,463.2 L63.6,463.1 L63.8,463.1 L64.0,463.0 L64.2,463.0 L64.4,463.0 M170.6,463.0 L170.6,462.9 L170.6,462.5 L170.6,462.1 L170.6,461.4 L170.7,460.7 L170.7,460.0 L170.7,459.2 L170.7,458.5 L170.7,457.9 L170.7,457.4 L170.7,457.0 L170.7,456.9 L170.9,457.2 L171.0,457.8 L171.2,458.8 L171.3,460.1 L171.5,461.5 L171.6,463.0 L171.8,464.5 L171.9,465.9 L172.1,467.2 L172.3,468.2 L172.4,468.8 L172.6,469.1 L172.7,469.0 L172.9,468.8 L173.0,468.4 L173.2,467.9 L173.3,467.4 L173.5,466.8 L173.6,466.3 L173.8,465.7 L173.9,465.2 L174.1,464.8 L174.2,464.4 L174.4,464.2 L174.6,464.0 L174.8,463.9 L175.0,463.7 L175.2,463.6 L175.4,463.5 L175.6,463.3 L175.8,463.2 L176.0,463.2 L176.2,463.1 L176.4,463.0 L176.6,463.0 L176.8,463.0 M292.7,463.0 L292.7,463.1 L292.7,463.4 L292.8,463.7 L292.8,464.2 L292.8,464.8 L292.8,465.4 L292.8,466.0 L292.9,466.6 L292.9,467.1 L292.9,467.5 L292.9,467.7 L292.9,467.9 L293.1,468.0 L293.2,468.1 L293.3,468.2 L293.4,468.2 L293.5,468.3 L293.6,468.4 L293.7,468.4 L293.8,468.4 L293.9,468.4 L294.0,468.5 L294.1,468.5 L294.2,468.5 L294.3,468.4 L294.5,468.1 L294.6,467.6 L294.8,467.0 L294.9,466.4 L295.1,465.7 L295.2,465.1 L295.4,464.4 L295.5,463.9 L295.7,463.4 L295.9,463.1 L296.0,463.0 M414.9,463.0 L415.0,462.9 L415.0,462.7 L415.0,462.4 L415.0,462.1 L415.0,461.6 L415.1,461.2 L415.1,460.7 L415.1,460.3 L415.1,459.9 L415.1,459.6 L415.2,459.4 L415.2,459.4 L415.4,459.5 L415.6,460.0 L415.8,460.7 L416.0,461.6 L416.2,462.6 L416.4,463.6 L416.6,464.7 L416.8,465.7 L417.0,466.5 L417.2,467.2 L417.4,467.7 L417.6,467.9 L417.9,467.8 L418.2,467.6 L418.5,467.4 L418.8,467.0 L419.1,466.7 L419.5,466.3 L419.8,465.8 L420.1,465.4 L420.4,465.0 L420.7,464.7 L421.0,464.4 L421.3,464.2 L421.6,464.1 L421.9,463.9 L422.2,463.8 L422.5,463.6 L422.8,463.5 L423.1,463.4 L423.4,463.3 L423.7,463.2 L424.0,463.1 L424.3,463.0 L424.6,463.0 L425.0,463.0 M476.0,463.0 L476.1,462.9 L476.1,462.6 L476.1,462.1 L476.1,461.6 L476.1,460.9 L476.2,460.3 L476.2,459.6 L476.2,459.0 L476.2,458.4 L476.2,457.9 L476.3,457.6 L476.3,457.5 L476.4,457.5 L476.5,457.6 L476.6,457.6 L476.7,457.6 L476.8,457.7 L476.9,457.7 L477.0,457.8 L477.1,457.8 L477.2,457.9 L477.3,458.0 L477.4,458.1 L477.5,458.1 L477.7,458.3 L477.8,458.7 L478.0,459.1 L478.1,459.6 L478.3,460.2 L478.4,460.8 L478.6,461.3 L478.7,461.8 L478.9,462.3 L479.0,462.7 L479.2,462.9 L479.3,463.0" fill="none" stroke="#ff0000" stroke-width="1.6" stroke-linejoin="round" stroke-linecap="butt" clip-path="url(#c2)"/>
<path d="M48.5,463.0 L48.5,462.0 L48.5,461.0 L48.6,459.9 L48.6,458.8 L48.6,457.8 L48.6,456.8 L48.6,455.8 L48.7,455.0 L48.7,454.3 L48.7,453.7 L48.7,453.4 L48.7,453.3 L48.9,453.3 L49.0,453.5 L49.1,453.8 L49.3,454.2 L49.4,454.6 L49.5,455.1 L49.7,455.7 L49.8,456.2 L49.9,456.7 L50.1,457.2 L50.2,457.7 L50.3,458.1 L50.5,458.7 L50.7,459.4 L50.9,460.0 L51.1,460.7 L51.4,461.3 L51.6,462.0 L51.8,462.6 L52.0,463.1 L52.2,463.6 L52.4,464.1 L52.6,464.5 L52.8,464.8 L53.0,465.1 L53.2,465.4 L53.4,465.6 L53.6,465.9 L53.8,466.1 L54.0,466.3 L54.2,466.5 L54.4,466.7 L54.6,466.8 L54.8,466.9 L55.0,467.0 L55.2,467.0 L55.5,467.0 L55.7,466.9 L56.0,466.8 L56.2,466.6 L56.5,466.4 L56.8,466.2 L57.0,465.9 L57.3,465.7 L57.5,465.4 L57.8,465.2 L58.0,465.0 L58.3,464.8 L58.5,464.6 L58.8,464.5 L59.0,464.3 L59.3,464.1 L59.6,463.9 L59.8,463.7 L60.1,463.5 L60.3,463.3 L60.6,463.2 L60.8,463.1 L61.1,463.0 L61.3,463.0 M170.5,463.0 L170.5,462.0 L170.5,459.1 L170.5,454.8 L170.6,449.5 L170.6,443.3 L170.6,436.9 L170.6,430.4 L170.6,424.3 L170.7,418.9 L170.7,414.6 L170.7,411.8 L170.7,410.8 L170.7,413.6 L170.8,421.6 L170.8,433.5 L170.8,448.6 L170.8,465.6 L170.8,483.7 L170.9,501.7 L170.9,518.8 L170.9,533.8 L170.9,545.8 L170.9,553.7 L171.0,556.6 L171.0,554.2 L171.0,547.8 L171.1,538.1 L171.1,526.0 L171.1,512.2 L171.2,497.6 L171.2,483.0 L171.2,469.3 L171.2,457.1 L171.3,447.4 L171.3,441.0 L171.3,438.7 L171.4,438.9 L171.5,439.3 L171.6,439.9 L171.6,440.8 L171.7,441.9 L171.8,443.0 L171.8,444.3 L171.9,445.6 L172.0,447.0 L172.0,448.3 L172.1,449.6 L172.2,450.9 L172.3,453.3 L172.5,456.1 L172.6,459.3 L172.7,462.7 L172.9,466.1 L173.0,469.6 L173.1,472.8 L173.3,475.7 L173.4,478.2 L173.5,480.1 L173.6,481.4 L173.8,481.8 L173.9,481.7 L173.9,481.2 L174.0,480.5 L174.1,479.6 L174.2,478.6 L174.3,477.4 L174.4,476.1 L174.4,474.8 L174.5,473.6 L174.6,472.4 L174.7,471.3 L174.8,470.3 L174.8,469.6 L174.9,468.9 L174.9,468.2 L175.0,467.5 L175.1,466.8 L175.1,466.2 L175.2,465.5 L175.2,464.9 L175.3,464.3 L175.4,463.8 L175.4,463.4 L175.5,463.0 L175.6,462.5 L175.7,462.1 L175.7,461.7 L175.8,461.3 L175.9,460.9 L176.0,460.5 L176.1,460.2 L176.1,459.9 L176.2,459.7 L176.3,459.5 L176.4,459.4 L176.5,459.4 L176.6,459.4 L176.7,459.5 L176.7,459.7 L176.8,459.9 L176.9,460.1 L177.0,460.4 L177.1,460.7 L177.2,460.9 L177.3,461.2 L177.4,461.4 L177.5,461.6 L177.6,461.8 L177.7,461.9 L177.8,462.1 L177.9,462.2 L178.0,462.3 L178.1,462.5 L178.2,462.6 L178.3,462.7 L178.4,462.8 L178.5,462.9 L178.6,462.9 L178.7,463.0 L178.8,463.0 M292.7,463.0 L292.7,462.9 L292.7,462.5 L292.8,462.1 L292.8,461.4 L292.8,460.7 L292.8,460.0 L292.8,459.2 L292.9,458.5 L292.9,457.9 L292.9,457.4 L292.9,457.0 L292.9,456.9 L293.0,456.9 L293.1,457.0 L293.1,457.0 L293.2,457.1 L293.2,457.2 L293.3,457.3 L293.3,457.4 L293.4,457.6 L293.4,457.7 L293.5,457.8 L293.5,458.0 L293.6,458.1 L293.7,458.6 L293.8,459.3 L293.9,460.2 L294.0,461.2 L294.1,462.3 L294.2,463.5 L294.3,464.6 L294.4,465.6 L294.5,466.5 L294.6,467.2 L294.7,467.7 L294.8,467.9 L294.9,467.8 L295.0,467.7 L295.2,467.5 L295.3,467.2 L295.4,466.9 L295.6,466.5 L295.7,466.1 L295.8,465.7 L296.0,465.3 L296.1,464.9 L296.2,464.6 L296.4,464.2 L296.5,463.9 L296.6,463.5 L296.7,463.1 L296.9,462.7 L297.0,462.2 L297.1,461.8 L297.2,461.4 L297.4,461.1 L297.5,460.8 L297.6,460.5 L297.7,460.4 L297.8,460.3 L298.0,460.4 L298.2,460.5 L298.5,460.7 L298.7,461.0 L298.9,461.3 L299.1,461.7 L299.3,462.0 L299.5,462.3 L299.7,462.6 L299.9,462.8 L300.1,462.9 L300.3,463.0 M414.9,463.0 L415.0,461.4 L415.0,456.8 L415.0,449.9 L415.0,441.3 L415.0,431.5 L415.1,421.1 L415.1,410.7 L415.1,400.9 L415.1,392.3 L415.1,385.4 L415.2,380.8 L415.2,379.2 L415.2,381.7 L415.3,388.8 L415.3,399.5 L415.3,412.9 L415.4,428.1 L415.4,444.2 L415.5,460.3 L415.5,475.5 L415.5,488.9 L415.6,499.5 L415.6,506.6 L415.7,509.2 L415.7,508.3 L415.8,505.8 L415.9,502.0 L416.0,497.2 L416.1,491.7 L416.2,485.8 L416.2,479.7 L416.3,473.7 L416.4,468.1 L416.5,463.3 L416.6,459.5 L416.6,456.9 L416.7,455.1 L416.8,453.4 L416.9,451.7 L417.0,450.1 L417.0,448.7 L417.1,447.3 L417.2,446.2 L417.3,445.1 L417.4,444.3 L417.5,443.7 L417.5,443.3 L417.6,443.2 L417.7,443.5 L417.9,444.3 L418.0,445.5 L418.1,447.1 L418.2,448.9 L418.4,450.9 L418.5,452.9 L418.6,454.9 L418.7,456.7 L418.8,458.4 L419.0,459.7 L419.1,460.6 L419.2,461.4 L419.4,462.3 L419.6,463.1 L419.7,463.9 L419.9,464.6 L420.1,465.2 L420.2,465.8 L420.4,466.3 L420.6,466.7 L420.7,467.0 L420.9,467.2 L421.0,467.3 L421.3,467.2 L421.5,467.1 L421.7,466.9 L421.9,466.6 L422.2,466.3 L422.4,465.9 L422.6,465.6 L422.8,465.2 L423.1,464.9 L423.3,464.6 L423.5,464.4 L423.7,464.2 L424.0,464.1 L424.2,463.9 L424.5,463.8 L424.7,463.6 L425.0,463.5 L425.3,463.4 L425.5,463.3 L425.8,463.2 L426.0,463.1 L426.3,463.0 L426.5,463.0 L426.8,463.0 M476.0,463.0 L476.1,462.9 L476.1,462.6 L476.1,462.2 L476.1,461.7 L476.1,461.2 L476.2,460.6 L476.2,460.0 L476.2,459.4 L476.2,458.9 L476.2,458.5 L476.3,458.2 L476.3,458.1 L476.3,458.2 L476.4,458.2 L476.5,458.2 L476.5,458.3 L476.6,458.4 L476.7,458.5 L476.7,458.6 L476.8,458.8 L476.8,458.9 L476.9,459.1 L477.0,459.2 L477.0,459.4 L477.1,459.7 L477.2,460.3 L477.4,461.1 L477.5,461.9 L477.6,462.8 L477.7,463.7 L477.8,464.6 L477.9,465.4 L478.0,466.2 L478.1,466.7 L478.3,467.1 L478.4,467.3 L478.5,467.2 L478.6,467.1 L478.8,466.8 L478.9,466.6 L479.0,466.2 L479.2,465.9 L479.3,465.5 L479.4,465.1 L479.6,464.7 L479.7,464.3 L479.8,463.9 L480.0,463.6 L480.1,463.3 L480.2,463.0 L480.3,462.7 L480.4,462.3 L480.6,462.0 L480.7,461.7 L480.8,461.4 L480.9,461.1 L481.1,460.9 L481.2,460.7 L481.3,460.6 L481.4,460.6 L481.7,460.6 L481.9,460.8 L482.1,460.9 L482.4,461.2 L482.6,461.5 L482.8,461.8 L483.1,462.1 L483.3,462.4 L483.5,462.6 L483.8,462.8 L484.0,463.0 L484.2,463.0" fill="none" stroke="#0000ff" stroke-width="1.6" stroke-linejoin="round" stroke-linecap="butt" clip-path="url(#c2)"/>
<path d="M48.5,463.0 L48.5,478.6 L48.5,494.5 L48.6,510.1 L48.6,524.6 L48.6,537.2 L48.6,547.1 L48.7,553.6 L48.7,555.9 L48.7,555.9 L48.8,555.9 L48.8,555.9 L48.9,555.9 L49.0,555.9 L49.0,555.9 L49.1,555.9 L49.1,555.9 L49.2,552.8 L49.3,544.4 L49.3,532.3 L49.4,518.3 L49.5,503.9 L49.6,490.9 L49.6,480.7 L49.7,475.1 L49.9,470.0 L50.0,465.6 L50.2,461.8 L50.3,458.7 L50.5,456.2 L50.6,454.3 L50.8,452.9 L50.9,452.1 L51.1,451.5 L51.3,451.0 L51.4,450.5 L51.6,450.1 L51.7,449.8 L51.9,449.6 L52.0,449.4 L52.2,449.4 L52.4,449.5 L52.5,449.8 L52.7,450.3 L52.9,450.8 L53.1,451.5 L53.3,452.1 L53.5,452.7 L53.6,453.3 L53.9,454.1 L54.2,454.9 L54.5,455.8 L54.7,456.6 L55.0,457.4 L55.3,458.2 L55.6,458.8 L55.8,459.4 L56.3,460.0 L56.7,460.7 L57.1,461.3 L57.5,461.9 L58.0,462.3 L58.4,462.7 L58.8,462.9 L59.3,463.0 L119.0,463.0 L178.8,463.0 L238.6,463.0 L298.3,463.0 L358.1,463.0 L417.9,463.0 L477.6,463.0 L537.4,463.0" fill="none" stroke="#000000" stroke-width="1.65" stroke-linejoin="round" stroke-linecap="butt" clip-path="url(#c2)"/>
<circle cx="173.8" cy="463.5" r="25.3" fill="none" stroke="#555" stroke-width="0.8" stroke-dasharray="3.2,2.2"/>
<line x1="192.2" y1="446" x2="209" y2="429" stroke="#333" stroke-width="0.7"/>
<path d="M211.3,426.8 L206.4,428.6 L209.4,431.6 Z" fill="#222"/>
<defs><clipPath id="c3"><rect x="212.3" y="351.7" width="129.0" height="75.30000000000001"/></clipPath></defs>
<rect x="212.3" y="351.7" width="129.0" height="75.30000000000001" fill="#fff"/>
<line x1="255.30" x2="255.30" y1="351.7" y2="427" stroke="#ececec" stroke-width="0.7"/>
<line x1="298.30" x2="298.30" y1="351.7" y2="427" stroke="#ececec" stroke-width="0.7"/>
<path d="M256.42,446.60 L256.76,399.35" fill="none" stroke="#ff0000" stroke-width="1.2" clip-path="url(#c3)"/>
<path d="M258.5,354.0 L259.0,358.0 L259.4,362.0 L259.9,365.8 L260.4,369.6 L260.8,373.2 L261.3,376.7 L261.9,381.1 L262.4,385.9 L263.0,390.7 L263.6,394.7 L264.1,397.5 L264.7,398.6 L265.1,398.3 L265.6,397.5 L266.0,396.5 L266.5,395.4 L266.9,394.4 L267.3,393.7 L268.2,392.7 L269.1,391.9 L269.9,391.1 L270.8,390.5 L271.6,390.0 L272.5,389.9 M298.3,389.9 L301.9,389.9 L305.5,389.8 L309.1,389.6 L312.6,389.5 L316.2,389.4 L319.8,389.3 L322.0,389.4 L324.1,389.4 L326.2,389.5 L328.4,389.6 L330.6,389.8 L332.7,389.9" fill="none" stroke="#ff0000" stroke-width="1.6" stroke-linejoin="round" stroke-linecap="butt" clip-path="url(#c3)"/>
<path d="M254.70,389.90 L254.96,446.60" fill="none" stroke="#0000ff" stroke-width="1.5" clip-path="url(#c3)"/>
<path d="M256.16,446.60 L256.50,427.70 L258.22,352.10 L258.57,333.20" fill="none" stroke="#0000ff" stroke-width="1.7" clip-path="url(#c3)"/>
<path d="M263.2,333.2 L263.3,336.9 L263.4,340.5 L263.6,343.9 L263.7,347.0 L263.8,349.8 L263.9,352.1 L264.2,356.2 L264.4,359.7 L264.7,362.6 L264.9,365.3 L265.2,368.0 L265.4,371.0 L265.7,374.3 L266.0,377.7 L266.2,381.1 L266.5,384.4 L266.7,387.4 L267.0,389.9 L267.5,393.9 L268.0,397.6 L268.5,400.9 L268.9,403.8 L269.4,406.5 L269.9,408.8 L270.4,410.7 L270.8,412.6 L271.2,414.3 L271.6,415.8 L272.1,417.0 L272.5,417.9 L272.8,418.3 L273.1,418.8 L273.4,419.2 L273.8,419.5 L274.1,419.7 L274.4,419.8 L274.8,419.7 L275.2,419.4 L275.6,419.0 L276.0,418.4 L276.4,417.9 L276.8,417.3 L277.4,416.3 L277.9,415.1 L278.5,413.6 L279.1,412.0 L279.7,410.4 L280.2,408.8 L280.8,407.2 L281.4,405.4 L282.0,403.5 L282.5,401.8 L283.1,400.2 L283.7,399.0 L284.4,397.7 L285.1,396.6 L285.8,395.7 L286.5,394.8 L287.3,394.0 L288.0,393.3 L288.8,392.6 L289.6,391.9 L290.3,391.3 L291.1,390.8 L291.9,390.3 L292.7,389.9 L293.9,389.4 L295.1,388.8 L296.4,388.4 L297.6,388.0 L298.8,387.7 L300.0,387.6 L301.9,387.7 L303.7,388.0 L305.6,388.3 L307.5,388.6 L309.3,388.9 L311.2,389.1 L313.4,389.3 L315.5,389.5 L317.7,389.7 L319.8,389.8 L322.0,389.9 L324.1,389.9" fill="none" stroke="#0000ff" stroke-width="1.7" stroke-linejoin="round" stroke-linecap="butt" clip-path="url(#c3)"/>
<line x1="212.3" x2="341.3" y1="389.9" y2="389.9" stroke="#111" stroke-width="1.7"/>
<rect x="212.3" y="351.7" width="129.0" height="75.30000000000001" fill="none" stroke="#a8a8a8" stroke-width="0.9"/>
<text x="212.30" y="435.6" text-anchor="middle" font-family='"Liberation Sans", Arial, Helvetica, sans-serif' font-size="5.2" fill="#333">9.5</text>
<text x="255.30" y="435.6" text-anchor="middle" font-family='"Liberation Sans", Arial, Helvetica, sans-serif' font-size="5.2" fill="#333">10</text>
<line x1="255.30" x2="255.30" y1="427" y2="425.4" stroke="#999" stroke-width="0.6"/>
<line x1="255.30" x2="255.30" y1="351.7" y2="353.3" stroke="#999" stroke-width="0.6"/>
<text x="298.30" y="435.6" text-anchor="middle" font-family='"Liberation Sans", Arial, Helvetica, sans-serif' font-size="5.2" fill="#333">10.5</text>
<line x1="298.30" x2="298.30" y1="427" y2="425.4" stroke="#999" stroke-width="0.6"/>
<line x1="298.30" x2="298.30" y1="351.7" y2="353.3" stroke="#999" stroke-width="0.6"/>
<text x="341.30" y="435.6" text-anchor="middle" font-family='"Liberation Sans", Arial, Helvetica, sans-serif' font-size="5.2" fill="#333">11</text>
<text x="209" y="391.6" text-anchor="end" font-family='"Liberation Sans", Arial, Helvetica, sans-serif' font-size="5.2" fill="#333">0</text>
<rect x="260" y="354.5" width="29.3" height="18.2" rx="0.8" fill="#fbfbfb" stroke="#d2d2d2" stroke-width="0.8"/>
<text x="262.1" y="362.53" font-family='"Liberation Sans", Arial, Helvetica, sans-serif' font-size="5.3" fill="#484848">X <tspan fill="#1a9cf0" font-weight="bold">10.04</tspan></text>
<text x="262.1" y="369.53" font-family='"Liberation Sans", Arial, Helvetica, sans-serif' font-size="5.3" fill="#484848">Y <tspan fill="#1a9cf0" font-weight="bold">0.19127</tspan></text>
<rect x="257.48" y="352.30" width="2" height="2" fill="#1a1a1a" stroke="#e8e0a0" stroke-width="0.4"/>
<rect x="265.7" y="378.8" width="37.8" height="19.3" rx="0.8" fill="#fbfbfb" stroke="#d2d2d2" stroke-width="0.8"/>
<text x="267.8" y="387.55" font-family='"Liberation Sans", Arial, Helvetica, sans-serif' font-size="5.3" fill="#484848">X <tspan fill="#1a9cf0" font-weight="bold">10.11</tspan></text>
<text x="267.8" y="394.20" font-family='"Liberation Sans", Arial, Helvetica, sans-serif' font-size="5.3" fill="#484848">Y <tspan fill="#1a9cf0" font-weight="bold">-0.0460915</tspan></text>
<rect x="263.67" y="397.70" width="2" height="2" fill="#1a1a1a" stroke="#e8e0a0" stroke-width="0.4"/>
<rect x="49.9" y="536.2" width="30.3" height="18.8" rx="0.8" fill="#fbfbfb" stroke="#d2d2d2" stroke-width="0.8"/>
<text x="52.0" y="544.70" font-family='"Liberation Sans", Arial, Helvetica, sans-serif' font-size="5.55" fill="#484848">X <tspan fill="#1a9cf0" font-weight="bold">0.03</tspan></text>
<text x="52.0" y="551.35" font-family='"Liberation Sans", Arial, Helvetica, sans-serif' font-size="5.55" fill="#484848">Y <tspan fill="#1a9cf0" font-weight="bold">-0.7653</tspan></text>
<rect x="47.87" y="554.95" width="2" height="2" fill="#1a1a1a" stroke="#e8e0a0" stroke-width="0.4"/>
<rect x="172" y="536.6" width="35.5" height="18.6" rx="0.8" fill="#fbfbfb" stroke="#d2d2d2" stroke-width="0.8"/>
<text x="174.1" y="545.00" font-family='"Liberation Sans", Arial, Helvetica, sans-serif' font-size="5.55" fill="#484848">X <tspan fill="#1a9cf0" font-weight="bold">10.01</tspan></text>
<text x="174.1" y="551.65" font-family='"Liberation Sans", Arial, Helvetica, sans-serif' font-size="5.55" fill="#484848">Y <tspan fill="#1a9cf0" font-weight="bold">-0.770475</tspan></text>
<rect x="169.85" y="555.62" width="2" height="2" fill="#1a1a1a" stroke="#e8e0a0" stroke-width="0.4"/>
<rect x="415.5" y="359" width="34" height="19" rx="0.8" fill="#fbfbfb" stroke="#d2d2d2" stroke-width="0.8"/>
<text x="417.6" y="367.60" font-family='"Liberation Sans", Arial, Helvetica, sans-serif' font-size="5.55" fill="#484848">X <tspan fill="#1a9cf0" font-weight="bold">30.01</tspan></text>
<text x="417.6" y="374.25" font-family='"Liberation Sans", Arial, Helvetica, sans-serif' font-size="5.55" fill="#484848">Y <tspan fill="#1a9cf0" font-weight="bold">0.692065</tspan></text>
<rect x="414.30" y="377.92" width="2" height="2" fill="#1a1a1a" stroke="#e8e0a0" stroke-width="0.4"/>
<rect x="432.3" y="562.5" width="104.5" height="22" fill="#fff" stroke="#8c8c8c" stroke-width="0.9"/>
<line x1="434.5" x2="450.8" y1="573.1" y2="573.1" stroke="#ff0000" stroke-width="1.5"/>
<text x="451.4" y="575.8" font-family='"Liberation Sans", Arial, Helvetica, sans-serif' font-size="12.8" fill="#111">S</text>
<text transform="translate(460.3,581.2) scale(0.78,1)" font-family='"DejaVu Serif", "Liberation Serif", serif' font-size="9.6" font-style="italic" font-weight="bold" fill="#111">ψ</text>
<line x1="469.8" x2="486.1" y1="573.1" y2="573.1" stroke="#0000ff" stroke-width="1.5"/>
<text x="486.7" y="575.8" font-family='"Liberation Sans", Arial, Helvetica, sans-serif' font-size="12.8" fill="#111">S</text>
<text transform="translate(495.4,581.2) scale(0.78,1)" font-family='"DejaVu Serif", "Liberation Serif", serif' font-size="9.6" font-style="italic" font-weight="bold" fill="#111">ϕ</text>
<line x1="505.2" x2="521.5" y1="573.1" y2="573.1" stroke="#000000" stroke-width="1.5"/>
<text x="522.1" y="575.8" font-family='"Liberation Sans", Arial, Helvetica, sans-serif' font-size="12.8" fill="#111">S</text>
<text transform="translate(530.8,581.6) scale(0.7,1)" font-family='"DejaVu Serif", "Liberation Serif", serif' font-size="10.8" font-style="italic" font-weight="bold" fill="#111">θ</text>
<text x="274.5" y="653.6" text-anchor="middle" font-family='"Liberation Serif", "Times New Roman", serif' font-size="24.6" fill="#1a1a1a">(<tspan font-weight="bold">b</tspan>)</text>
</svg>
</body></html>
